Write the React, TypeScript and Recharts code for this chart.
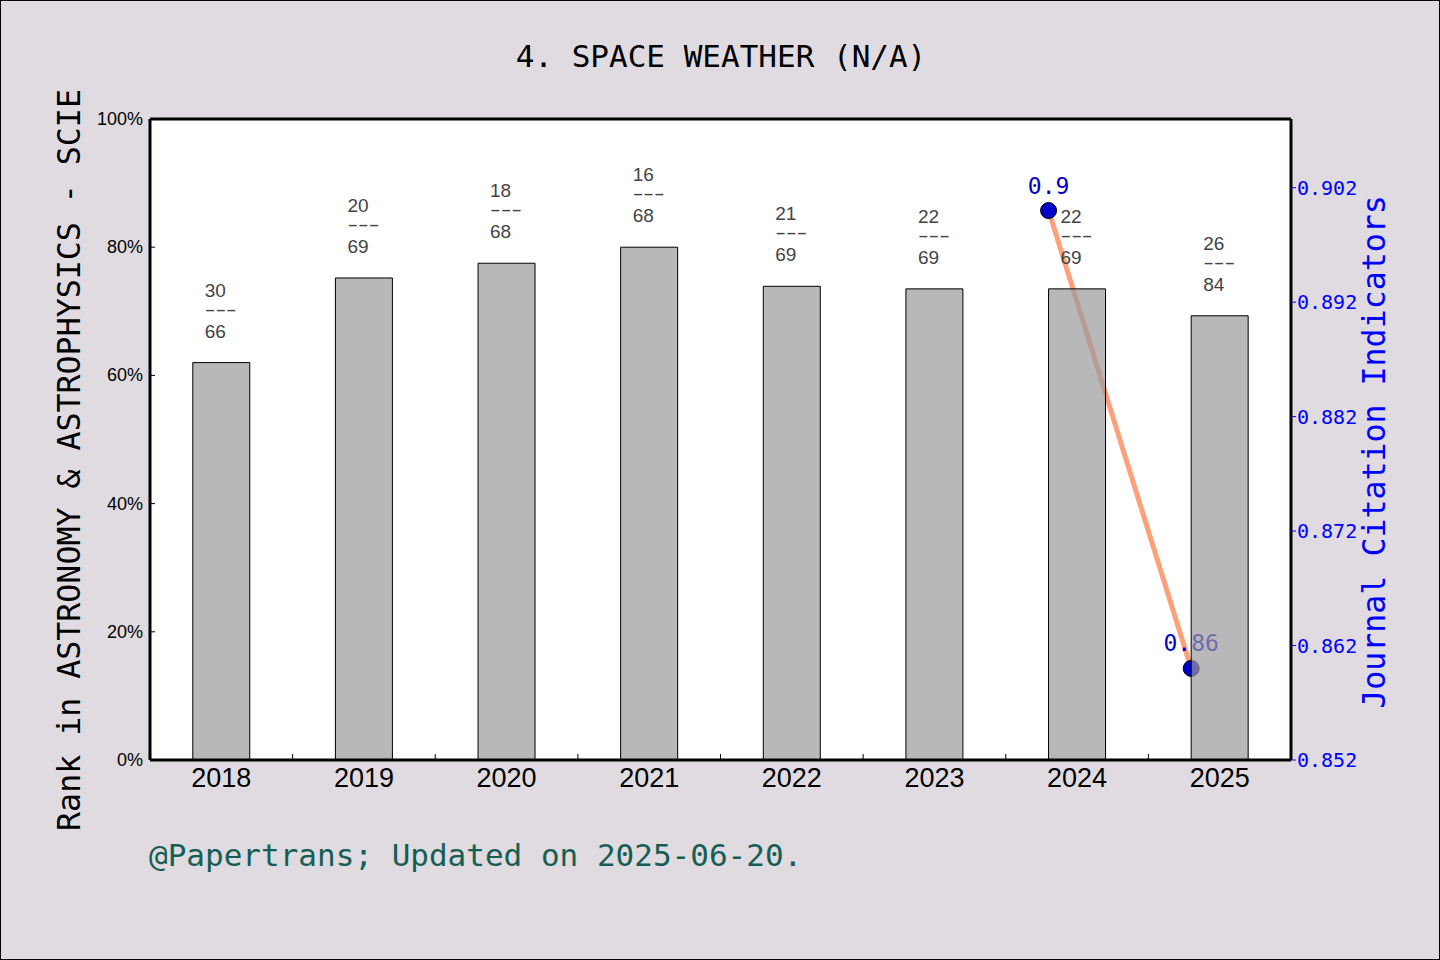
import {
  ComposedChart,
  Bar,
  Line,
  XAxis,
  YAxis,
  CartesianGrid,
  LabelList,
  Label,
} from "recharts";

const years = ["2018", "2019", "2020", "2021", "2022", "2023", "2024", "2025"];
const rankPercent = [62, 75.2, 77.5, 80, 73.9, 73.5, 73.5, 69.3];
const rankInCategory = [30, 20, 18, 16, 21, 22, 22, 26];
const journalsInCategory = [66, 69, 68, 68, 69, 69, 69, 84];
const jciValues = [null, null, null, null, null, null, 0.9, 0.86];
const percentTicks = [0, 20, 40, 60, 80, 100];
const jciTicks = [0.852, 0.862, 0.872, 0.882, 0.892, 0.902];

const MONO = "'DejaVu Sans Mono', monospace";
const SANS = "'Liberation Sans', Arial, sans-serif";

const W = 1440;
const H = 960;
const MARGIN = { top: 118, right: 0, bottom: 0, left: 0 };
const JCI_DOMAIN: [number, number] = [0.852, 0.908];

const data = years.map((year, i) => ({
  year,
  rank: rankPercent[i],
  rankText: `${rankInCategory[i]}/${journalsInCategory[i]}`,
  jci: jciValues[i],
}));

// three-line "rank / --- / total" label above each bar
const RankLabel = (props: any) => {
  const { x, y, value } = props;
  if (value == null) return null;
  const [top, bottom] = String(value).split("/");
  const tx = Number(x) + 12;
  const ty = Number(y);
  return (
    <g fontFamily={SANS} fontSize={19} fill="#444">
      <text x={tx} y={ty - 66}>{top}</text>
      <text x={tx} y={ty - 47} textLength={32} lengthAdjust="spacingAndGlyphs">
        ---
      </text>
      <text x={tx} y={ty - 25}>{bottom}</text>
    </g>
  );
};

// year label plus a small inward tick at the category boundary
const YearTick = (props: any) => {
  const { x, y, payload, index } = props;
  const half = payload && payload.offset ? payload.offset : 71;
  return (
    <g>
      <text
        x={x}
        y={y + 27}
        textAnchor="middle"
        fontFamily={SANS}
        fontSize={27}
        fill="#000"
      >
        {payload.value}
      </text>
      {index < years.length - 1 && (
        <line x1={x + half} x2={x + half} y1={y} y2={y - 6} stroke="#000" strokeWidth={1} />
      )}
    </g>
  );
};

const PercentTick = (props: any) => {
  const { x, y, payload } = props;
  return (
    <g>
      <text
        x={x - 7}
        y={y + 6}
        textAnchor="end"
        fontFamily={SANS}
        fontSize={18}
        fill="#000"
      >
        {payload.value}%
      </text>
      <line x1={x} x2={x + 5} y1={y} y2={y} stroke="#000" strokeWidth={1} />
    </g>
  );
};

const chartStyle = { position: "absolute" as const, left: 0, top: 0 };

export default function App() {
  return (
    <div
      style={{
        position: "absolute",
        left: 0,
        top: 0,
        width: W,
        height: H,
        background: "#dfdbe0",
        boxShadow: "inset 0 0 0 1px #000",
      }}
    >
      <svg width={W} height={H} style={{ ...chartStyle, pointerEvents: "none" }}>
        <text
          x={721}
          y={67}
          textAnchor="middle"
          fontFamily={MONO}
          fontSize={31}
          fill="#000"
        >
          4. SPACE WEATHER (N/A)
        </text>
        <text x={149} y={866} fontFamily={MONO} fontSize={31} fill="#155e54">
          @Papertrans; Updated on 2025-06-20.
        </text>
      </svg>

      {/* lower layer: white plot area, JCI axis and line (bars are drawn over it) */}
      <ComposedChart width={W} height={H} data={data} margin={MARGIN} style={chartStyle}>
        <CartesianGrid yAxisId="left" fill="#fff" horizontal={false} vertical={false} />
        <XAxis dataKey="year" height={200} tick={false} tickLine={false} axisLine={false} />
        <XAxis
          xAxisId="top"
          dataKey="year"
          orientation="top"
          height={1}
          tick={false}
          tickLine={false}
          axisLine={false}
        />
        {/* JCI points sit on the left edge of each bar */}
        <XAxis
          xAxisId="line"
          dataKey="year"
          scale="band"
          hide
          padding={{ left: -28.5, right: 28.5 }}
        />
        <YAxis yAxisId="left" width={150} domain={[0, 100]} tick={false} tickLine={false} axisLine={false} />
        <YAxis
          yAxisId="right"
          orientation="right"
          width={149}
          domain={JCI_DOMAIN}
          ticks={jciTicks}
          interval={0}
          tickSize={5}
          tickMargin={1}
          tickLine={{ stroke: "#0000ff" }}
          axisLine={{ stroke: "#000", strokeWidth: 3 }}
          tick={{ fill: "#0000ff", fontFamily: MONO, fontSize: 20 }}
          tickFormatter={(v: number) => v.toFixed(3)}
        >
          <Label
            content={() => (
              <text
                transform="translate(1385,452) rotate(-90)"
                textAnchor="middle"
                fontFamily={MONO}
                fontSize={31.6}
                fill="#0000ff"
              >
                Journal Citation Indicators
              </text>
            )}
          />
        </YAxis>
        <Line
          xAxisId="line"
          yAxisId="right"
          dataKey="jci"
          stroke="#ffa07a"
          strokeWidth={5}
          dot={{ r: 8, fill: "#0000cc", stroke: "#000", strokeWidth: 1 }}
          activeDot={false}
          isAnimationActive={false}
        >
          <LabelList
            dataKey="jci"
            position="top"
            offset={17}
            fill="#0000cc"
            fontFamily={MONO}
            fontSize={23}
          />
        </Line>
      </ComposedChart>

      {/* upper layer: translucent bars, rank labels, axes and frame */}
      <ComposedChart
        width={W}
        height={H}
        data={data}
        margin={MARGIN}
        barCategoryGap="30%"
        style={chartStyle}
      >
        <XAxis
          dataKey="year"
          height={200}
          tickSize={0}
          tickMargin={0}
          tickLine={false}
          axisLine={{ stroke: "#000", strokeWidth: 3 }}
          tick={<YearTick />}
          interval={0}
        />
        <XAxis
          xAxisId="top"
          dataKey="year"
          orientation="top"
          height={1}
          tick={false}
          tickLine={false}
          axisLine={{ stroke: "#000", strokeWidth: 3 }}
        />
        <YAxis
          yAxisId="left"
          width={150}
          domain={[0, 100]}
          ticks={percentTicks}
          interval={0}
          tickSize={0}
          tickMargin={0}
          tickLine={false}
          axisLine={{ stroke: "#000", strokeWidth: 3 }}
          tick={<PercentTick />}
        >
          <Label
            content={() => (
              <text
                transform="translate(80,460) rotate(-90)"
                textAnchor="middle"
                fontFamily={MONO}
                fontSize={31.6}
                fill="#000"
              >
                Rank in ASTRONOMY &amp; ASTROPHYSICS - SCIE
              </text>
            )}
          />
        </YAxis>
        <YAxis
          yAxisId="right"
          orientation="right"
          width={149}
          domain={JCI_DOMAIN}
          tick={false}
          tickLine={false}
          axisLine={false}
        />
        <Bar
          yAxisId="left"
          dataKey="rank"
          fill="#9a9a9c"
          fillOpacity={0.7}
          stroke="#000"
          strokeWidth={1}
          isAnimationActive={false}
        >
          <LabelList dataKey="rankText" content={<RankLabel />} />
        </Bar>
      </ComposedChart>
    </div>
  );
}
